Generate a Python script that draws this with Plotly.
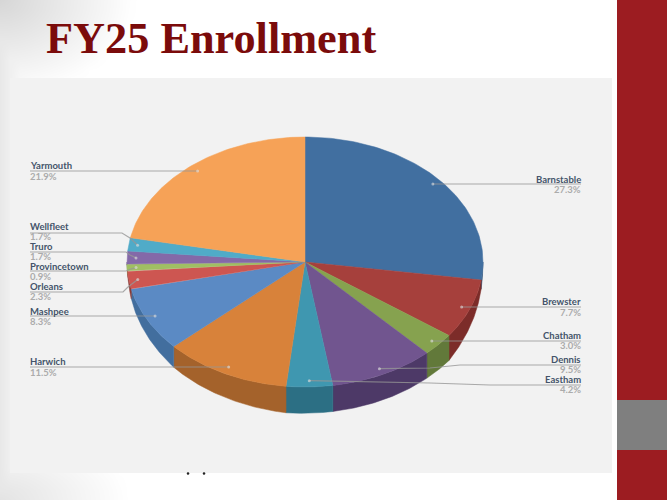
import numpy as np
import plotly.graph_objects as go

# FY25 enrollment share by town, clockwise from twelve o'clock
towns = ["Barnstable", "Brewster", "Chatham", "Dennis", "Eastham", "Harwich",
         "Mashpee", "Orleans", "Provincetown", "Truro", "Wellfleet", "Yarmouth"]
shares = [27.3, 7.7, 3.0, 9.5, 4.2, 11.5, 8.3, 2.3, 0.9, 1.7, 1.7, 21.9]

top_colors = ["#416fa0", "#a6403c", "#86a24f", "#71558f", "#3f97b0", "#d8823a",
              "#5b8ac4", "#cd5651", "#a0bf63", "#8469a8", "#50abc8", "#f6a257"]
wall_colors = ["#2f5278", "#7c2c29", "#62793a", "#4d3967", "#2c6f84", "#a4622b",
               "#426e9e", "#8a3b36", "#78904a", "#5f4b7c", "#3a7f96", "#b87a42"]

# Pie geometry on the slide, in pixels
CX, CY, RX, RY = 305.0, 262.0, 178.0, 125.0
WALL_ANGLES = [90, 98, 105, 126, 137, 171, 186, 227, 245, 253, 258, 270]
WALL_DEPTHS = [0, 9, 14, 25, 25, 26, 26.5, 21, 15, 12, 9, 0]
DOT_RADIUS = 0.95

# Label rows: name centre, leader line, percentage centre
label_rows = {
    "Barnstable": (179, 184, 189), "Brewster": (301, 307, 312),
    "Chatham": (335, 341, 345), "Dennis": (359, 365, 369),
    "Eastham": (379, 385, 389), "Harwich": (361, 367, 372),
    "Mashpee": (311, 316, 321), "Orleans": (286.5, 292, 296.5),
    "Provincetown": (266.5, 271, 276.5), "Truro": (246.5, 252, 256.5),
    "Wellfleet": (226.5, 233, 236.5), "Yarmouth": (165, 171, 176),
}
# Elbows between a label's rule and its dot
leader_elbows = {
    "Wellfleet": [(122, 233), (130, 238)],
    "Truro": [(126, 252), (130, 255)],
    "Provincetown": [(126, 271), (131, 269)],
    "Orleans": [(123, 292), (128, 287)],
    "Dennis": [(460, 365), (430, 368)],
    "Eastham": [(490, 385), (430, 383)],
}
LABEL_LEFT, LABEL_RIGHT = 30, 581
TEXT_PAD = 2
RIGHT_SIDE = {"Barnstable", "Brewster", "Chatham", "Dennis", "Eastham"}


def rim(angles_deg):
    t = np.radians(angles_deg)
    return CX + RX * np.sin(t), CY - RY * np.cos(t)


def rect(x0, y0, x1, y1, color):
    return go.Scatter(x=[x0, x1, x1, x0, x0], y=[y0, y0, y1, y1, y0], mode="lines",
                      fill="toself", fillcolor=color, line=dict(width=0),
                      hoverinfo="skip", showlegend=False)


fig = go.Figure()

# Soft grey falloff in the slide's left corners
gx = np.linspace(0, 667, 68)
gy = np.linspace(0, 500, 51)
xx, yy = np.meshgrid(gx, gy)
shade = np.clip(1 - np.hypot(xx / 135, yy / 95), 0, 1) * 0.16
shade = np.maximum(shade, np.clip(1 - np.hypot(xx / 130, (500 - yy) / 70), 0, 1) * 0.11)
shade = np.maximum(shade, np.clip(1 - xx / 30, 0, 1) * 0.09)
fig.add_trace(go.Heatmap(x=gx, y=gy, z=1 - shade, zmin=0, zmax=1, zsmooth="best",
                         colorscale=[[0, "#000000"], [1, "#ffffff"]],
                         showscale=False, hoverinfo="skip"))

# Chart panel and right-hand slide band
fig.add_trace(rect(10, 78, 612, 473, "#f2f2f2"))
fig.add_trace(rect(617, 0, 667, 500, "#9c1c21"))
fig.add_trace(rect(617, 400, 667, 450, "#7f7f7f"))
fig.add_trace(go.Scatter(x=[188, 204], y=[473.5, 473.5], mode="markers",
                         marker=dict(size=2.5, color="#222222"),
                         hoverinfo="skip", showlegend=False))

edges = np.concatenate([[0], np.cumsum(shares)]) / np.sum(shares) * 360

# Outer walls on the near half of the pie
for i in range(len(towns)):
    a0, a1 = max(edges[i], 90), min(edges[i + 1], 270)
    if a1 <= a0:
        continue
    arc = np.linspace(a0, a1, 60)
    x, y = rim(arc)
    y_low = y + np.interp(arc, WALL_ANGLES, WALL_DEPTHS)
    fig.add_trace(go.Scatter(x=np.r_[x, x[::-1], x[0]], y=np.r_[y, y_low[::-1], y[0]],
                             mode="lines", fill="toself", fillcolor=wall_colors[i],
                             line=dict(width=0.5, color=wall_colors[i]),
                             hoverinfo="skip", showlegend=False))

# Top faces of the slices
for i, town in enumerate(towns):
    x, y = rim(np.linspace(edges[i], edges[i + 1], 90))
    fig.add_trace(go.Scatter(x=np.r_[CX, x, CX], y=np.r_[CY, y, CY], mode="lines",
                             fill="toself", fillcolor=top_colors[i],
                             line=dict(width=0.5, color=top_colors[i]),
                             name=town, showlegend=False,
                             hovertemplate=f"{town}: {shares[i]}%<extra></extra>"))

# Leader lines, anchor dots and text labels
annotations = []
for i, town in enumerate(towns):
    name_y, rule_y, pct_y = label_rows[town]
    mid = (edges[i] + edges[i + 1]) / 2
    t = np.radians(mid)
    dot_x = CX + DOT_RADIUS * RX * np.sin(t)
    dot_y = CY - DOT_RADIUS * RY * np.cos(t)
    right = town in RIGHT_SIDE
    end_x = LABEL_RIGHT if right else LABEL_LEFT
    pts = [(end_x, rule_y)] + leader_elbows.get(town, [])
    if town not in leader_elbows:
        pts.append((dot_x, rule_y))
        dot_y = rule_y
    else:
        pts.append((dot_x, dot_y))
    fig.add_trace(go.Scatter(x=[p[0] for p in pts], y=[p[1] for p in pts], mode="lines",
                             line=dict(color="rgba(150,150,150,0.8)", width=1.2),
                             hoverinfo="skip", showlegend=False))
    fig.add_trace(go.Scatter(x=[dot_x], y=[dot_y], mode="markers",
                             marker=dict(size=3, color="rgba(225,225,225,0.6)"),
                             hoverinfo="skip", showlegend=False))
    anchor = "right" if right else "left"
    shift = TEXT_PAD if right else -TEXT_PAD
    annotations.append(dict(x=end_x, y=name_y, text=f"<b>{town}</b>", showarrow=False,
                            xanchor=anchor, yanchor="middle", xshift=shift,
                            font=dict(family="Lato", size=9.5, color="#44546a")))
    annotations.append(dict(x=end_x, y=pct_y, text=f"<b>{shares[i]:.1f}%</b>", showarrow=False,
                            xanchor=anchor, yanchor="middle", xshift=shift,
                            font=dict(family="Lato", size=9.5, color="#ababab")))

annotations.append(dict(x=46, y=38, text="<b>FY25 Enrollment</b>", showarrow=False,
                        xanchor="left", yanchor="middle", xshift=-TEXT_PAD,
                        font=dict(family="Liberation Serif", size=44.3, color="#7b0b0b")))

fig.update_layout(
    width=667, height=500, margin=dict(l=0, r=0, t=0, b=0),
    paper_bgcolor="#ffffff", plot_bgcolor="#ffffff", showlegend=False,
    xaxis=dict(range=[0, 667], visible=False, fixedrange=True),
    yaxis=dict(range=[500, 0], visible=False, fixedrange=True),
    annotations=annotations,
)
fig.write_html("out.html", config={"displayModeBar": False})
